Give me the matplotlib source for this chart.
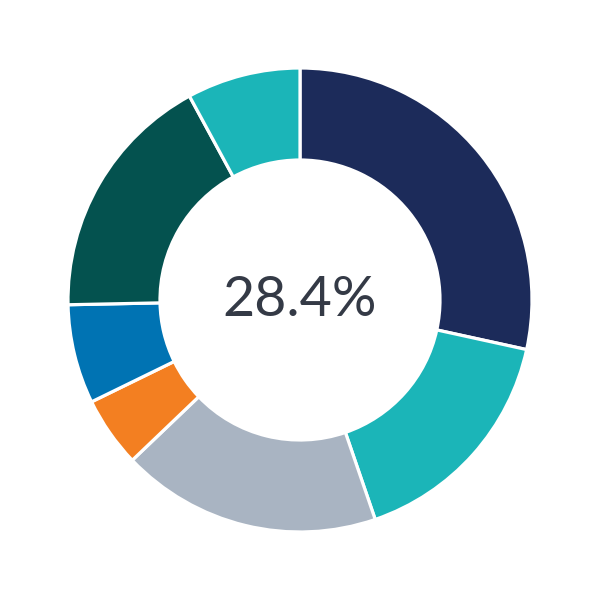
import matplotlib
matplotlib.use("Agg")
import matplotlib.pyplot as plt

labels = ["A", "B", "C", "D", "E", "F", "G"]
values = [28.4, 16.3, 18.1, 4.9, 6.9, 17.4, 7.9]
colors = ["#1c2b5a", "#1bb5b8", "#a9b4c2", "#f37f21", "#0073b3", "#04524f", "#1bb5b8"]
center_label = "28.4%"

fig = plt.figure(figsize=(6, 6), dpi=100)
ax = fig.add_axes([0, 0, 1, 1])
R = 232.0
ax.pie(values, colors=colors, startangle=90, counterclock=False, radius=1.0,
       wedgeprops=dict(width=(232 - 140) / R, edgecolor="white", linewidth=2.3))
ax.set_xlim(-300 / R, 300 / R)
ax.set_ylim(-300 / R, 300 / R)
ax.set_aspect("equal")
ax.axis("off")
ax.text(0, 0, center_label, ha="center", va="center", fontsize=40,
        color="#343a46", family="Lato")
fig.savefig("out.png", dpi=100, facecolor="white")
